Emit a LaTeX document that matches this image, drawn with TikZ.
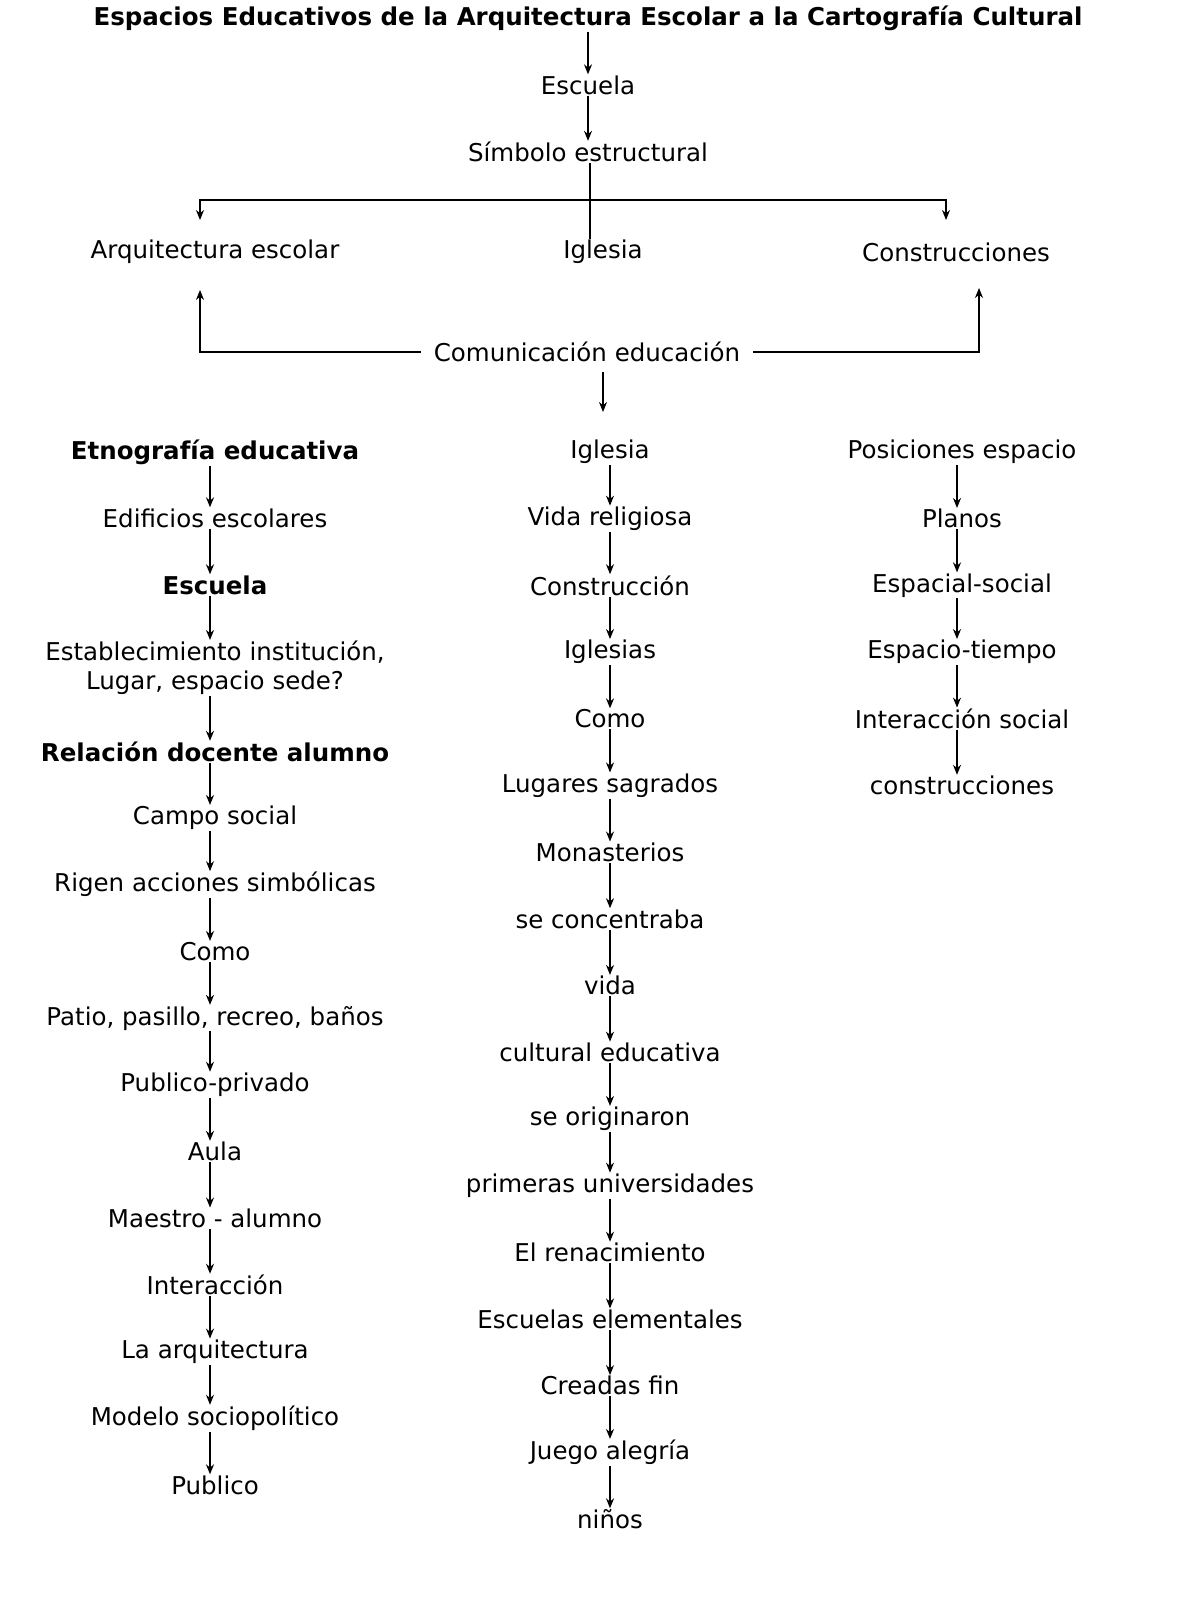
\documentclass[tikz,border=0pt]{standalone}
\usepackage{fontspec}
\setmainfont{DejaVu Sans}
\usetikzlibrary{arrows.meta}
\tikzset{
  item/.style={inner sep=1pt, font=\fontsize{24.5}{29}\selectfont, align=center},
  bolditem/.style={item, font=\fontsize{24.5}{29}\selectfont\bfseries},
  link/.style={-{Stealth[length=10pt,width=8pt]}, line width=1.3pt},
  rule/.style={line width=1.2pt}
}
\begin{document}
\begin{tikzpicture}[x=1pt,y=-1pt]
\useasboundingbox (0,0) rectangle (1201,1600);

\node[bolditem] (title) at (588,18) {Espacios Educativos de la Arquitectura Escolar a la Cartografía Cultural};
\node[item] (esc) at (588,85) {Escuela};
\node[item] (sym) at (588,152) {Símbolo estructural};
\node[item] (arq) at (215,252) {Arquitectura escolar};
\node[item] (igl) at (603,252) {Iglesia};
\node[item] (con) at (956,252) {Construcciones};
\node[item, outer sep=12pt] (com) at (587,352) {Comunicación educación};

\draw[link] (title) -- (esc);
\draw[link] (esc) -- (sym);

% branch below the symbol
\coordinate (bl) at (200,200);
\coordinate (br) at (946,200);
\draw[rule] (sym.south -| 590,0) -- (igl.north -| 590,0);
\draw[link, {Stealth[length=10pt,width=8pt]}-{Stealth[length=10pt,width=8pt]}] (200,220) -- (bl) -- (br) -- (946,220);
\draw[link] (com.west) -| (200,290);
\draw[link] (com.east) -| (979,288);
\coordinate (cd) at (603,412);
\draw[link] (603,372) -- (cd);

% left column
\node[bolditem] (l1) at (215,452) {Etnografía educativa};
\node[item] (l2) at (215,518) {Edificios escolares};
\node[bolditem] (l3) at (215,585) {Escuela};
\node[item] (l4) at (215,668) {Establecimiento institución,\\Lugar, espacio sede?};
\node[bolditem] (l5) at (215,752) {Relación docente alumno};
\foreach \t [count=\i from 6] in {Campo social, Rigen acciones simbólicas, Como,
    {Patio, pasillo, recreo, baños}, Publico-privado, Aula, Maestro - alumno,
    Interacción, La arquitectura, Modelo sociopolítico, Publico}
  \node[item] (l\i) at (215,818+66.7*\i-400.2) {\t};
\foreach \i [evaluate=\i as \j using int(\i+1)] in {1,...,15}
  \draw[link] (l\i.south -| 210,0) -- (l\j.north -| 210,0);

% middle column
\foreach \t [count=\i] in {Iglesia, Vida religiosa, Construcción, Iglesias, Como,
    Lugares sagrados, Monasterios, se concentraba, vida, cultural educativa,
    se originaron, primeras universidades, El renacimiento, Escuelas elementales,
    Creadas fin, Juego alegría, niños}
  \node[item] (m\i) at (610,452+66.7*\i-66.7) {\t};
\foreach \i [evaluate=\i as \j using int(\i+1)] in {1,...,16}
  \draw[link] (m\i) -- (m\j);

% right column
\foreach \t [count=\i] in {Posiciones espacio, Planos, Espacial-social,
    Espacio-tiempo, Interacción social, construcciones}
  \node[item] (r\i) at (962,452+66.7*\i-66.7) {\t};
\foreach \i [evaluate=\i as \j using int(\i+1)] in {1,...,5}
  \draw[link] (r\i.south -| 957,0) -- (r\j.north -| 957,0);

\end{tikzpicture}
\end{document}
